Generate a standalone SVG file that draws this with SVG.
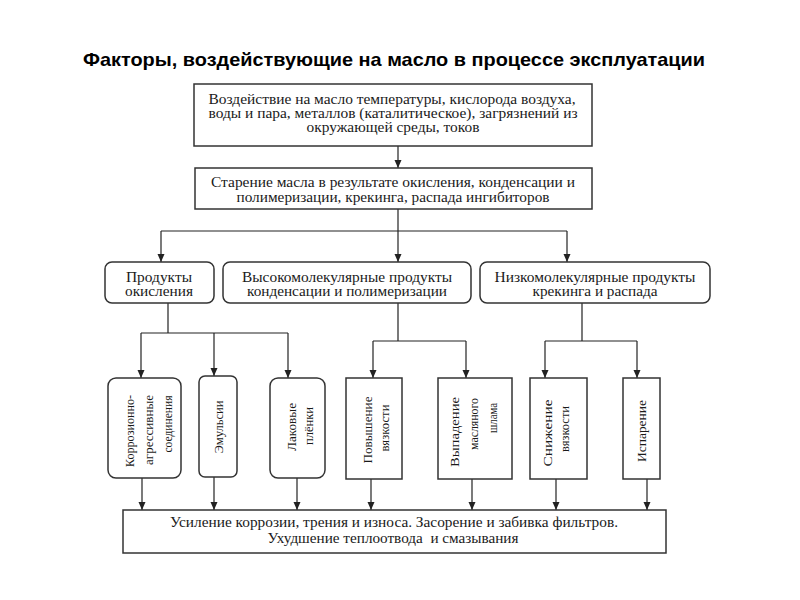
<svg xmlns="http://www.w3.org/2000/svg" width="800" height="600" viewBox="0 0 800 600">
<defs>
<marker id="arr" markerUnits="userSpaceOnUse" markerWidth="8" markerHeight="8" refX="8" refY="3.5" orient="auto">
<path d="M0,0 L8,3.5 L0,7 z" fill="#222"/>
</marker>
<style>
.box{fill:#fff;stroke:#333;stroke-width:1.5}
.t{font-family:"Liberation Serif","Times New Roman",serif;font-size:14px;fill:#1a1a1a;text-anchor:middle}
.v{font-family:"Liberation Serif","Times New Roman",serif;font-size:13px;fill:#1a1a1a;text-anchor:middle}
.s{font-size:12px}
.title{font-family:"Liberation Sans",Arial,sans-serif;font-size:19px;font-weight:bold;fill:#000;text-anchor:middle}
.c{fill:none;stroke:#222;stroke-width:1.2}
.a{marker-end:url(#arr)}
</style>
</defs>
<rect width="800" height="600" fill="#fff"/>
<text class="title" x="394" y="66" textLength="622" lengthAdjust="spacingAndGlyphs">Факторы, воздействующие на масло в процессе эксплуатации</text>

<g id="connectors">
<path class="c a" d="M398 146 V168"/>
<path class="c a" d="M398 209 V262"/>
<path class="c" d="M161 231 H567"/>
<path class="c a" d="M161 231 V262"/>
<path class="c a" d="M567 231 V262"/>
<path class="c" d="M168 303 V333 M141 333 H288"/>
<path class="c a" d="M141 333 V378"/>
<path class="c a" d="M214 333 V376"/>
<path class="c a" d="M288 333 V378"/>
<path class="c" d="M398 303 V341 M373 341 H466"/>
<path class="c a" d="M373 341 V378"/>
<path class="c a" d="M466 341 V378"/>
<path class="c" d="M582 303 V341 M545 341 H637"/>
<path class="c a" d="M545 341 V378"/>
<path class="c a" d="M637 341 V378"/>
<path class="c a" d="M142 478 V510"/>
<path class="c a" d="M214 477 V510"/>
<path class="c a" d="M297 478 V510"/>
<path class="c a" d="M371 479 V510"/>
<path class="c a" d="M472 479 V510"/>
<path class="c a" d="M556 479 V510"/>
<path class="c a" d="M647 479 V510"/>
</g>

<g id="factors">
<rect class="box" x="194" y="84" width="398" height="62"/>
<text class="t" x="392" y="104" textLength="367" lengthAdjust="spacingAndGlyphs">Воздействие на масло температуры, кислорода воздуха,</text>
<text class="t" x="393" y="118" textLength="369" lengthAdjust="spacingAndGlyphs">воды и пара, металлов (каталитическое), загрязнений из</text>
<text class="t" x="393" y="132" textLength="173" lengthAdjust="spacingAndGlyphs">окружающей среды, токов</text>
</g>

<g id="aging">
<rect class="box" x="195" y="168" width="397" height="41"/>
<text class="t" x="393" y="187" textLength="364" lengthAdjust="spacingAndGlyphs">Старение масла в результате окисления, конденсации и</text>
<text class="t" x="393" y="202" textLength="313" lengthAdjust="spacingAndGlyphs">полимеризации, крекинга, распада ингибиторов</text>
</g>

<g id="oxidation">
<rect class="box" x="105" y="262" width="109" height="41" rx="7"/>
<text class="t" x="159" y="282" textLength="66" lengthAdjust="spacingAndGlyphs">Продукты</text>
<text class="t" x="159" y="296" textLength="68" lengthAdjust="spacingAndGlyphs">окисления</text>
</g>

<g id="highmol">
<rect class="box" x="223" y="262" width="248" height="41" rx="7"/>
<text class="t" x="347" y="282" textLength="210" lengthAdjust="spacingAndGlyphs">Высокомолекулярные продукты</text>
<text class="t" x="347" y="296" textLength="200" lengthAdjust="spacingAndGlyphs">конденсации и полимеризации</text>
</g>

<g id="lowmol">
<rect class="box" x="480" y="262" width="230" height="41" rx="7"/>
<text class="t" x="595" y="282" textLength="201" lengthAdjust="spacingAndGlyphs">Низкомолекулярные продукты</text>
<text class="t" x="595" y="296" textLength="125" lengthAdjust="spacingAndGlyphs">крекинга и распада</text>
</g>

<g id="corrosive">
<rect class="box" x="108" y="378" width="73" height="100" rx="8"/>
<text class="v" x="134" y="431" transform="rotate(-90 134 431)" textLength="72" lengthAdjust="spacingAndGlyphs">Коррозионно-</text>
<text class="v" x="153" y="430" transform="rotate(-90 153 430)" textLength="70" lengthAdjust="spacingAndGlyphs">агрессивные</text>
<text class="v" x="172" y="424" transform="rotate(-90 172 424)" textLength="57" lengthAdjust="spacingAndGlyphs">соединения</text>
</g>

<g id="emulsions">
<rect class="box" x="199" y="376" width="38" height="101" rx="6"/>
<text class="v" x="223" y="427" transform="rotate(-90 223 427)" textLength="53" lengthAdjust="spacingAndGlyphs">Эмульсии</text>
</g>

<g id="varnish">
<rect class="box" x="270" y="378" width="55" height="100" rx="8"/>
<text class="v" x="296" y="427" transform="rotate(-90 296 427)" textLength="48" lengthAdjust="spacingAndGlyphs">Лаковые</text>
<text class="v" x="313" y="426" transform="rotate(-90 313 426)" textLength="38" lengthAdjust="spacingAndGlyphs">плёнки</text>
</g>

<g id="visc-up">
<rect class="box" x="346" y="378" width="56" height="101"/>
<text class="v" x="372" y="430" transform="rotate(-90 372 430)" textLength="67" lengthAdjust="spacingAndGlyphs">Повышение</text>
<text class="v s" x="389" y="428" transform="rotate(-90 389 428)" textLength="47" lengthAdjust="spacingAndGlyphs">вязкости</text>
</g>

<g id="sludge">
<rect class="box" x="438" y="378" width="74" height="101"/>
<text class="v" x="459" y="432" transform="rotate(-90 459 432)" textLength="70" lengthAdjust="spacingAndGlyphs">Выпадение</text>
<text class="v s" x="478" y="424" transform="rotate(-90 478 424)" textLength="52" lengthAdjust="spacingAndGlyphs">масляного</text>
<text class="v s" x="497" y="418" transform="rotate(-90 497 418)" textLength="30" lengthAdjust="spacingAndGlyphs">шлама</text>
</g>

<g id="visc-down">
<rect class="box" x="530" y="378" width="57" height="101"/>
<text class="v" x="552" y="433" transform="rotate(-90 552 433)" textLength="67" lengthAdjust="spacingAndGlyphs">Снижение</text>
<text class="v s" x="569" y="429" transform="rotate(-90 569 429)" textLength="46" lengthAdjust="spacingAndGlyphs">вязкости</text>
</g>

<g id="evaporation">
<rect class="box" x="623" y="378" width="37" height="101"/>
<text class="v" x="646" y="431" transform="rotate(-90 646 431)" textLength="62" lengthAdjust="spacingAndGlyphs">Испарение</text>
</g>

<g id="consequences">
<rect class="box" x="123" y="510" width="543" height="43"/>
<text class="t" x="394" y="527" textLength="448" lengthAdjust="spacingAndGlyphs">Усиление коррозии, трения и износа. Засорение и забивка фильтров.</text>
<text class="t" x="393" y="543" textLength="251" lengthAdjust="spacingAndGlyphs" xml:space="preserve">Ухудшение теплоотвода  и смазывания</text>
</g>
</svg>
